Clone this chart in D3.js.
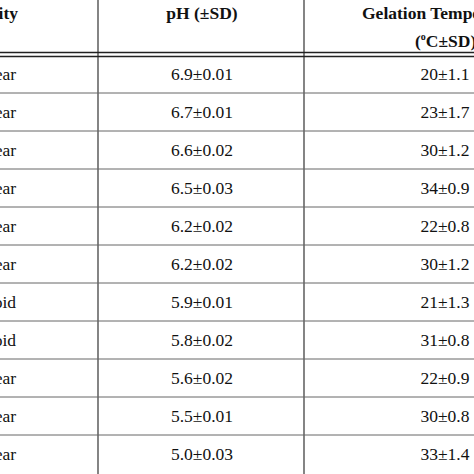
<!DOCTYPE html>
<html><head><meta charset="utf-8">
<script src="https://cdn.jsdelivr.net/npm/d3@7"></script>
<style>body{margin:0;background:#fff}</style></head>
<body><svg id="t" width="474" height="474"></svg>
<script>
const clarity = ["Clear","Clear","Clear","Clear","Clear","Clear","Colloid","Colloid","Clear","Clear","Clear"];
const ph = ["6.9±0.01","6.7±0.01","6.6±0.02","6.5±0.03","6.2±0.02","6.2±0.02","5.9±0.01","5.8±0.02","5.6±0.02","5.5±0.01","5.0±0.03"];
const gel = ["20±1.1","23±1.7","30±1.2","34±0.9","22±0.8","30±1.2","21±1.3","31±0.8","22±0.9","30±0.8","33±1.4"];

const svg = d3.select("#t");
const font = "'Liberation Serif', 'Times New Roman', serif";
const y = d3.scaleLinear().domain([0, 1]).range([74, 112]);
const col = [16, 202, 445];

// grid
svg.append("g").selectAll("line").data([98, 304]).join("line")
  .attr("x1", d => d).attr("x2", d => d).attr("y1", 0).attr("y2", 474)
  .attr("stroke", "#333").attr("stroke-width", 1.2);
svg.append("line").attr("x1",0).attr("x2",474).attr("y1",52.5).attr("y2",52.5).attr("stroke","#222").attr("stroke-width",1.3);
svg.append("line").attr("x1",0).attr("x2",474).attr("y1",56.5).attr("y2",56.5).attr("stroke","#222").attr("stroke-width",1.3);
svg.append("g").selectAll("line").data(d3.range(1, ph.length)).join("line")
  .attr("x1",0).attr("x2",474).attr("y1", d => y(d) - 19).attr("y2", d => y(d) - 19)
  .attr("stroke","#666").attr("stroke-width",1);

// header
const h = svg.append("g").attr("font-family", font).attr("font-weight","bold").attr("font-size",17.5).attr("fill","#111");
h.append("text").attr("x",col[0]+2).attr("y",19).attr("text-anchor","end").text("Clarity");
h.append("text").attr("x",col[1]).attr("y",19).attr("text-anchor","middle").text("pH (±SD)");
h.append("text").attr("x",362).attr("y",19).attr("text-anchor","start").text("Gelation Temperature");
const t2 = h.append("text").attr("x",415).attr("y",47).attr("text-anchor","start");
t2.append("tspan").text("(");
t2.append("tspan").attr("font-size",10).attr("dy",-7).text("o");
t2.append("tspan").attr("dy",7).text("C±SD)");

// body
const b = svg.append("g").attr("font-family", font).attr("font-size",17.5).attr("fill","#111");
const rows = [clarity, ph, gel];
rows.forEach((arr, c) => {
  b.append("g").selectAll("text").data(arr).join("text")
    .attr("x", col[c]).attr("y", (d, i) => y(i) + 6)
    .attr("text-anchor", c === 0 ? "end" : "middle").text(d => d);
});
</script></body></html>
